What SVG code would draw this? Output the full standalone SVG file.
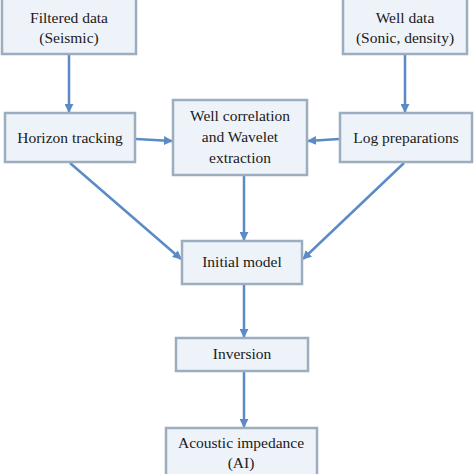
<svg xmlns="http://www.w3.org/2000/svg" width="474" height="474" viewBox="0 0 474 474">
<style>
.box{fill:#eef3f9;stroke:#9cadc0;stroke-width:2.5}
.t{font-family:'Liberation Serif','Times New Roman','DejaVu Serif',serif;font-size:15.5px;fill:#1a1a1a;text-anchor:middle}
.c{stroke:#5b8bc6;stroke-width:2.5;fill:none;marker-end:url(#ah)}
</style>
<defs>
<marker id="ah" viewBox="0 0 10 10" refX="9" refY="5" markerWidth="3.6" markerHeight="3.6" orient="auto" markerUnits="strokeWidth">
<path d="M0,0 L10,5 L0,10 z" fill="#5b8bc6"/>
</marker>
</defs>
<rect width="474" height="474" fill="#ffffff"/>
<g id="connectors">
<line class="c" x1="69" y1="55" x2="69" y2="112"/>
<line class="c" x1="405" y1="55" x2="405" y2="112"/>
<line class="c" x1="136" y1="139" x2="172" y2="141"/>
<line class="c" x1="339" y1="139" x2="308" y2="141"/>
<line class="c" x1="244" y1="176" x2="244" y2="240"/>
<line class="c" x1="70" y1="163" x2="181" y2="259"/>
<line class="c" x1="404" y1="163" x2="303" y2="259"/>
<line class="c" x1="244" y1="285" x2="244" y2="337"/>
<line class="c" x1="244" y1="372" x2="244" y2="427"/>
</g>
<g id="filtered">
<rect class="box" x="2" y="-2" width="134" height="56"/>
<text class="t" x="69" y="23" font-family="Liberation Serif, serif">Filtered data</text>
<text class="t" x="69" y="43" font-family="Liberation Serif, serif">(Seismic)</text>
</g>
<g id="welldata">
<rect class="box" x="343" y="-2" width="124" height="56"/>
<text class="t" x="405" y="23" font-family="Liberation Serif, serif">Well data</text>
<text class="t" x="405" y="43" font-family="Liberation Serif, serif">(Sonic, density)</text>
</g>
<g id="horizon">
<rect class="box" x="5" y="113" width="130" height="49"/>
<text class="t" x="70" y="143" font-family="Liberation Serif, serif">Horizon tracking</text>
</g>
<g id="wellcorr">
<rect class="box" x="173" y="100" width="134" height="75"/>
<text class="t" x="240" y="121" font-family="Liberation Serif, serif">Well correlation</text>
<text class="t" x="240" y="142" font-family="Liberation Serif, serif">and Wavelet</text>
<text class="t" x="240" y="163" font-family="Liberation Serif, serif">extraction</text>
</g>
<g id="logprep">
<rect class="box" x="340" y="113" width="132" height="49"/>
<text class="t" x="406" y="143" font-family="Liberation Serif, serif">Log preparations</text>
</g>
<g id="initial">
<rect class="box" x="182" y="241" width="120" height="43"/>
<text class="t" x="242" y="267" font-family="Liberation Serif, serif">Initial model</text>
</g>
<g id="inversion">
<rect class="box" x="176" y="338" width="132" height="33"/>
<text class="t" x="242" y="359" font-family="Liberation Serif, serif">Inversion</text>
</g>
<g id="acoustic">
<rect class="box" x="166" y="428" width="151" height="50"/>
<text class="t" x="241" y="448" font-family="Liberation Serif, serif">Acoustic impedance</text>
<text class="t" x="241" y="468" font-family="Liberation Serif, serif">(AI)</text>
</g>
</svg>
